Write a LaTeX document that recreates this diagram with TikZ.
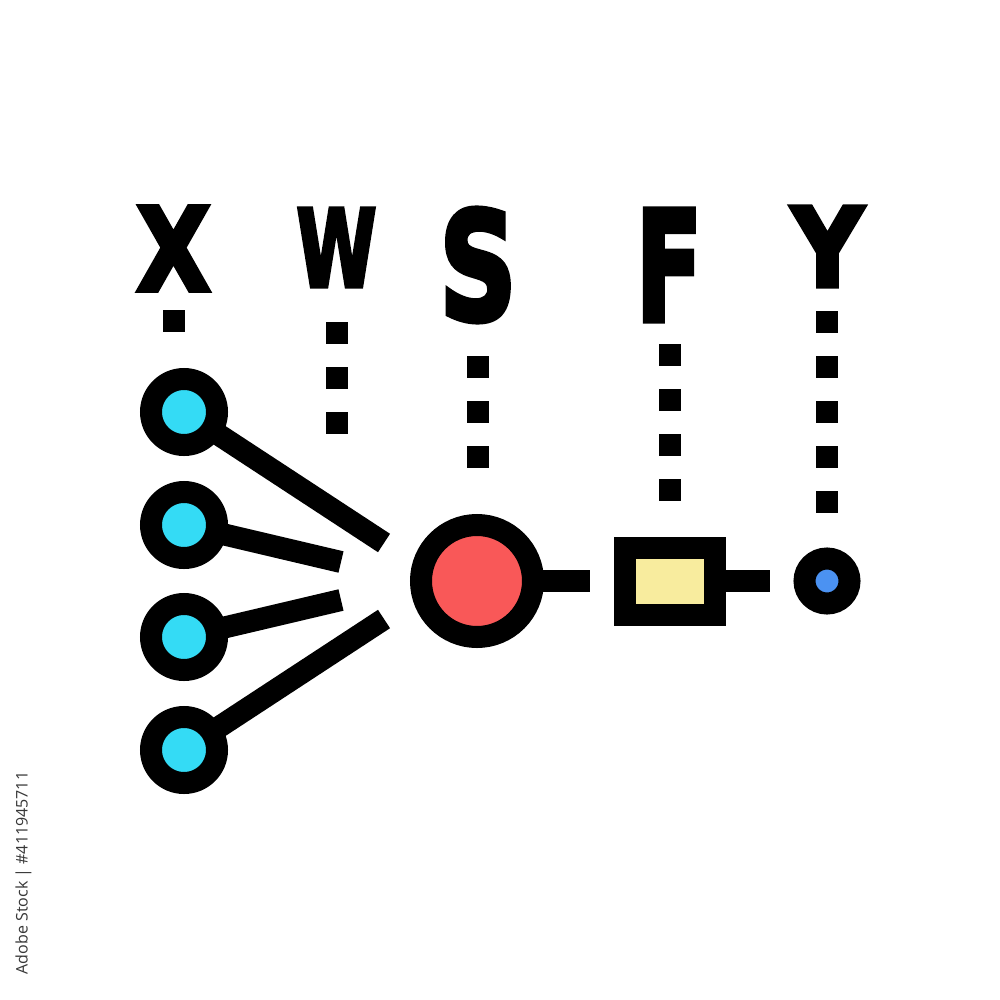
\documentclass[tikz,border=0pt]{standalone}
\usepackage{fontspec}
\setmainfont{DejaVu Sans}
\newfontfamily\heavyfont{DejaVu Sans}[BoldFeatures={FakeBold=4}]
\newfontfamily\wmfont{Open Sans}
\usepackage{graphicx}
\definecolor{cyanfill}{RGB}{52,219,245}
\definecolor{redfill}{RGB}{249,88,88}
\definecolor{yellowfill}{RGB}{248,236,158}
\definecolor{bluefill}{RGB}{75,146,242}
\definecolor{wmgray}{RGB}{55,55,55}
\begin{document}
\begin{tikzpicture}[x=1pt,y=-1pt,
  ring/.style={circle, draw=black, line width=22pt, inner sep=0pt, outer sep=0pt},
  boxnode/.style={rectangle, draw=black, line width=22pt, inner sep=0pt, outer sep=0pt},
  wire/.style={line width=22pt, draw=black},
  dotline/.style={line width=22pt, draw=black, dash pattern=on 22pt off 23pt},
  letter/.style={inner sep=0pt, outer sep=0pt, font=\heavyfont\bfseries}]
\fill[white] (0,0) rectangle (1000,1000);
\useasboundingbox (0,0) rectangle (1000,1000);

% letters
\node[letter] (LX) at (173.5,248.5) {\resizebox{74pt}{84pt}{X}};
\node[letter] (LW) at (336.5,247.5) {\resizebox{80pt}{78pt}{W}};
\node[letter] (LS) at (478,265) {\resizebox{77pt}{111pt}{S}};
\node[letter] (LF) at (669,265) {\resizebox{66pt}{111pt}{F}};
\node[letter] (LY) at (827.5,246.5) {\resizebox{72pt}{80pt}{Y}};

% nodes
\node[ring, fill=cyanfill, minimum size=66pt] (x1) at (184,412) {};
\node[ring, fill=cyanfill, minimum size=66pt] (x2) at (184,525) {};
\node[ring, fill=cyanfill, minimum size=66pt] (x3) at (184,637) {};
\node[ring, fill=cyanfill, minimum size=66pt] (x4) at (184,750) {};
\node[ring, fill=redfill, minimum size=112pt] (s) at (477,581) {};
\node[boxnode, fill=yellowfill, minimum width=90pt, minimum height=67pt] (f) at (669.5,581) {};
\node[ring, fill=bluefill, minimum size=45pt] (y) at (827,581) {};

% free ends
\coordinate (e1) at (384,543);
\coordinate (e2) at (341,562);
\coordinate (e3) at (341,600);
\coordinate (e4) at (384,619);
\coordinate (sOut) at (590,581);
\coordinate (fOut) at (770,581);

\draw[wire] (x1) -- (e1);
\draw[wire] (x2) -- (e2);
\draw[wire] (x3) -- (e3);
\draw[wire] (x4) -- (e4);
\draw[wire] (s) -- (sOut);
\draw[wire] (f) -- (fOut);

% dotted guides
\draw[dotline] (173.5,310) -- (173.5,333);
\draw[dotline] (336.5,322) -- (336.5,434);
\draw[dotline] (477.5,356) -- (477.5,468);
\draw[dotline] (669.5,344) -- (669.5,502);
\draw[dotline] (827,311) -- (827,513);

% watermark id
\node[rotate=90, text=wmgray, inner sep=0pt, font=\wmfont\fontsize{16}{19}\selectfont] (wm) at (23.5,873) {Adobe Stock | \#411945711};
\end{tikzpicture}
\end{document}
